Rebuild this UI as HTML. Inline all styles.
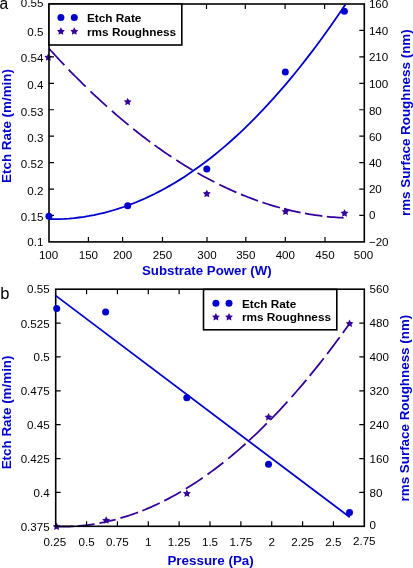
<!DOCTYPE html>
<html><head><meta charset="utf-8"><title>Etch rate and rms roughness</title>
<style>
html,body{margin:0;padding:0;background:#fff}
svg{display:block}
text{font-family:"Liberation Sans",Arial,Helvetica,sans-serif}
.t{font-size:11.6px;fill:#000}
.l{font-size:13.4px;font-weight:bold;fill:#0000cc}
.g{font-size:11.8px;font-weight:bold;fill:#000}
.p{font-size:16.5px;fill:#000}
</style></head><body>
<svg width="413" height="568" viewBox="0 0 413 568">
<rect width="413" height="568" fill="#fff"/>
<g id="chart-a">
<path d="M49.00,48.54 L51.20,50.97 L53.40,53.37 L55.60,55.76 L57.80,58.13 L60.00,60.48 L62.20,62.82 L64.40,65.14M68.60,69.52 L71.04,72.03 L73.49,74.53 L75.93,77.00 L78.37,79.46 L80.81,81.89 L83.26,84.30 L85.70,86.68M90.50,91.31 L92.86,93.56 L95.21,95.78 L97.57,97.98 L99.93,100.17 L102.29,102.33 L104.64,104.47 L107.00,106.59M111.90,110.94 L114.29,113.03 L116.67,115.09 L119.06,117.14 L121.44,119.16 L123.83,121.17 L126.21,123.15 L128.60,125.11M133.20,128.84 L135.63,130.78 L138.06,132.69 L140.49,134.59 L142.91,136.46 L145.34,138.31 L147.77,140.14 L150.20,141.95M154.50,145.11 L156.91,146.85 L159.33,148.56 L161.74,150.26 L164.16,151.94 L166.57,153.60 L168.99,155.23 L171.40,156.85M176.30,160.06 L178.61,161.54 L180.93,163.01 L183.24,164.46 L185.56,165.89 L187.87,167.30 L190.19,168.69 L192.50,170.06M197.50,172.95 L199.91,174.32 L202.33,175.67 L204.74,176.99 L207.16,178.29 L209.57,179.57 L211.99,180.84 L214.40,182.08M219.30,184.53 L221.74,185.72 L224.19,186.89 L226.63,188.03 L229.07,189.16 L231.51,190.26 L233.96,191.35 L236.40,192.41M241.00,194.35 L243.43,195.34 L245.86,196.31 L248.29,197.26 L250.71,198.19 L253.14,199.10 L255.57,199.99 L258.00,200.85M262.50,202.40 L265.00,203.23 L267.50,204.04 L270.00,204.82 L272.50,205.58 L275.00,206.32 L277.50,207.03 L280.00,207.73M284.00,208.79 L286.37,209.39 L288.74,209.97 L291.11,210.54 L293.49,211.08 L295.86,211.60 L298.23,212.10 L300.60,212.58M305.00,213.42 L307.49,213.86 L309.97,214.28 L312.46,214.68 L314.94,215.06 L317.43,215.41 L319.91,215.74 L322.40,216.05M326.80,216.55 L329.20,216.79 L331.60,217.01 L334.00,217.20 L336.40,217.38 L338.80,217.54 L341.20,217.67 L343.60,217.79" fill="none" stroke="#330099" stroke-width="1.75"/>
<polygon points="48.30,53.25 49.53,55.70 52.25,56.12 50.30,58.05 50.74,60.76 48.30,59.50 45.86,60.76 46.30,58.05 44.35,56.12 47.07,55.70" fill="#330099"/><polygon points="127.70,97.75 128.93,100.20 131.65,100.62 129.70,102.55 130.14,105.26 127.70,104.00 125.26,105.26 125.70,102.55 123.75,100.62 126.47,100.20" fill="#330099"/><polygon points="206.80,189.65 208.03,192.10 210.75,192.52 208.80,194.45 209.24,197.16 206.80,195.90 204.36,197.16 204.80,194.45 202.85,192.52 205.57,192.10" fill="#330099"/><polygon points="285.60,207.55 286.83,210.00 289.55,210.42 287.60,212.35 288.04,215.06 285.60,213.80 283.16,215.06 283.60,212.35 281.65,210.42 284.37,210.00" fill="#330099"/><polygon points="344.50,209.15 345.73,211.60 348.45,212.02 346.50,213.95 346.94,216.66 344.50,215.40 342.06,216.66 342.50,213.95 340.55,212.02 343.27,211.60" fill="#330099"/>
<rect x="49.0" y="4.0" width="315.3" height="237.9" fill="none" stroke="#000" stroke-width="1.6"/>
<path d="M88.4,241.9v-5M122.6,241.9v-5M162.5,241.9v-5M207,241.9v-5M245.8,241.9v-5M285.3,241.9v-5M325.0,241.9v-5M88.4,4.0v5M127.8,4.0v5M167.2,4.0v5M206.5,4.0v5M245.3,4.0v5M285.1,4.0v5M324.6,4.0v5M49.0,30.43h5M364.3,30.43h-5M49.0,56.87h5M364.3,56.87h-5M49.0,83.30h5M364.3,83.30h-5M49.0,109.73h5M364.3,109.73h-5M49.0,136.17h5M364.3,136.17h-5M49.0,162.60h5M364.3,162.60h-5M49.0,189.03h5M364.3,189.03h-5M49.0,215.47h5M364.3,215.47h-5" stroke="#000" stroke-width="1.2" fill="none"/>
<path d="M48.90,219.20 L53.93,219.22 L58.95,219.12 L63.98,218.90 L69.00,218.56 L74.03,218.10 L79.05,217.51 L84.08,216.81 L89.10,215.98 L94.13,215.03 L99.15,213.96 L104.18,212.76 L109.21,211.45 L114.23,210.00 L119.26,208.44 L124.28,206.75 L129.31,204.93 L134.33,202.99 L139.36,200.93 L144.38,198.74 L149.41,196.42 L154.43,193.98 L159.46,191.41 L164.48,188.71 L169.51,185.89 L174.54,182.94 L179.56,179.86 L184.59,176.65 L189.61,173.32 L194.64,169.85 L199.66,166.26 L204.69,162.53 L209.71,158.68 L214.74,154.70 L219.76,150.59 L224.79,146.34 L229.82,141.97 L234.84,137.46 L239.87,132.82 L244.89,128.05 L249.92,123.15 L254.94,118.12 L259.97,112.95 L264.99,107.65 L270.02,102.21 L275.04,96.64 L280.07,90.94 L285.09,85.10 L290.12,79.13 L295.15,73.02 L300.17,66.78 L305.20,60.40 L310.22,53.89 L315.25,47.24 L320.27,40.45 L325.30,33.52 L330.32,26.46 L335.35,19.26 L340.37,11.92 L345.40,4.44" fill="none" stroke="#0000cc" stroke-width="1.8"/>
<circle cx="48.9" cy="216.3" r="3.5" fill="#0000cc"/><circle cx="127.7" cy="205.7" r="3.5" fill="#0000cc"/><circle cx="206.8" cy="168.9" r="3.5" fill="#0000cc"/><circle cx="285.3" cy="71.9" r="3.5" fill="#0000cc"/><circle cx="344.4" cy="11.2" r="3.5" fill="#0000cc"/>
<text class="t" x="48.6" y="259.4" text-anchor="middle">100</text><text class="t" x="88.4" y="259.4" text-anchor="middle">150</text><text class="t" x="122.6" y="259.4" text-anchor="middle">200</text><text class="t" x="162.5" y="259.4" text-anchor="middle">250</text><text class="t" x="207.0" y="259.4" text-anchor="middle">300</text><text class="t" x="245.8" y="259.4" text-anchor="middle">350</text><text class="t" x="285.3" y="259.4" text-anchor="middle">400</text><text class="t" x="325.0" y="259.4" text-anchor="middle">450</text><text class="t" x="363.5" y="259.4" text-anchor="middle">500</text>
<text class="t" x="43.4" y="7.4" text-anchor="end">0.55</text><text class="t" x="43.4" y="35.7" text-anchor="end">0.5</text><text class="t" x="43.4" y="62.2" text-anchor="end">0.54</text><text class="t" x="43.4" y="89.0" text-anchor="end">0.4</text><text class="t" x="43.4" y="115.5" text-anchor="end">0.53</text><text class="t" x="43.4" y="142.0" text-anchor="end">0.3</text><text class="t" x="43.4" y="168.2" text-anchor="end">0.52</text><text class="t" x="43.4" y="194.5" text-anchor="end">0.2</text><text class="t" x="43.4" y="220.8" text-anchor="end">0.15</text><text class="t" x="43.4" y="246.2" text-anchor="end">0.1</text>
<text class="t" x="368.9" y="7.7">160</text><text class="t" x="368.9" y="35.1">140</text><text class="t" x="368.9" y="61.4">210</text><text class="t" x="368.9" y="88.2">100</text><text class="t" x="368.9" y="114.5">80</text><text class="t" x="368.9" y="140.7">60</text><text class="t" x="368.9" y="167.0">40</text><text class="t" x="368.9" y="193.3">20</text><text class="t" x="368.9" y="219.2">0</text><text class="t" x="368.9" y="245.7">−20</text>
<rect x="49" y="4" width="132.8" height="41" fill="#fff" stroke="#000" stroke-width="1.6"/>
<circle cx="60.9" cy="17.6" r="3.5" fill="#0000cc"/><circle cx="74.3" cy="17.6" r="3.5" fill="#0000cc"/><polygon points="60.90,27.35 62.13,29.80 64.85,30.22 62.90,32.15 63.34,34.86 60.90,33.60 58.46,34.86 58.90,32.15 56.95,30.22 59.67,29.80" fill="#330099"/><polygon points="74.30,27.35 75.53,29.80 78.25,30.22 76.30,32.15 76.74,34.86 74.30,33.60 71.86,34.86 72.30,32.15 70.35,30.22 73.07,29.80" fill="#330099"/><text class="g" x="87.0" y="21.7">Etch Rate</text><text class="g" x="87.0" y="35.5">rms Roughness</text>
<text class="l" x="206.8" y="274.6" text-anchor="middle" style="font-size:13.25px">Substrate Power (W)</text>
<text class="l" transform="translate(11,126) rotate(-90)" text-anchor="middle">Etch Rate (m/min)</text>
<text class="l" transform="translate(409.5,122.7) rotate(-90)" text-anchor="middle">rms Surface Roughness (nm)</text>
<text class="p" x="-0.5" y="8.7" style="font-size:15.6px">a</text>
</g>
<g id="chart-b">
<path d="M56.90,526.70 L59.33,526.73 L61.76,526.74 L64.19,526.72 L66.61,526.67 L69.04,526.60 L71.47,526.49 L73.90,526.35M77.50,526.10 L79.93,525.89 L82.36,525.66 L84.79,525.39 L87.21,525.10 L89.64,524.78 L92.07,524.42 L94.50,524.04M99.50,523.17 L101.80,522.73 L104.10,522.26 L106.40,521.76 L108.70,521.24 L111.00,520.70 L113.30,520.12 L115.60,519.53M120.40,518.20 L122.91,517.45 L125.43,516.68 L127.94,515.88 L130.46,515.04 L132.97,514.17 L135.49,513.28 L138.00,512.35M142.30,510.69 L144.79,509.69 L147.27,508.66 L149.76,507.60 L152.24,506.51 L154.73,505.39 L157.21,504.24 L159.70,503.06M164.20,500.84 L166.60,499.62 L169.00,498.37 L171.40,497.09 L173.80,495.78 L176.20,494.45 L178.60,493.08 L181.00,491.69M185.80,488.83 L188.21,487.34 L190.63,485.83 L193.04,484.29 L195.46,482.72 L197.87,481.12 L200.29,479.49 L202.70,477.84M207.50,474.46 L209.77,472.82 L212.04,471.16 L214.31,469.47 L216.59,467.76 L218.86,466.02 L221.13,464.26 L223.40,462.47M228.20,458.61 L230.67,456.58 L233.14,454.51 L235.61,452.42 L238.09,450.30 L240.56,448.15 L243.03,445.97 L245.50,443.76M249.30,440.30 L251.80,437.98 L254.30,435.64 L256.80,433.26 L259.30,430.86 L261.80,428.42 L264.30,425.95 L266.80,423.46M270.60,419.60 L273.00,417.13 L275.40,414.63 L277.80,412.10 L280.20,409.55 L282.60,406.96 L285.00,404.35 L287.40,401.71M291.60,397.03 L293.71,394.63 L295.83,392.22 L297.94,389.78 L300.06,387.32 L302.17,384.84 L304.29,382.34 L306.40,379.82M309.70,375.84 L311.71,373.38 L313.73,370.90 L315.74,368.41 L317.76,365.89 L319.77,363.35 L321.79,360.80 L323.80,358.22M327.10,353.96 L328.90,351.61 L330.70,349.24 L332.50,346.87 L334.30,344.47 L336.10,342.06 L337.90,339.63 L339.70,337.19M342.80,332.94 L343.76,331.62 L344.71,330.30 L345.67,328.97 L346.63,327.64 L347.59,326.30 L348.54,324.96 L349.50,323.61" fill="none" stroke="#330099" stroke-width="1.75"/>
<polygon points="56.60,522.55 57.83,525.00 60.55,525.42 58.60,527.35 59.04,530.06 56.60,528.80 54.16,530.06 54.60,527.35 52.65,525.42 55.37,525.00" fill="#330099"/><polygon points="106.20,516.35 107.43,518.80 110.15,519.22 108.20,521.15 108.64,523.86 106.20,522.60 103.76,523.86 104.20,521.15 102.25,519.22 104.97,518.80" fill="#330099"/><polygon points="186.90,489.45 188.13,491.90 190.85,492.32 188.90,494.25 189.34,496.96 186.90,495.70 184.46,496.96 184.90,494.25 182.95,492.32 185.67,491.90" fill="#330099"/><polygon points="268.50,413.05 269.73,415.50 272.45,415.92 270.50,417.85 270.94,420.56 268.50,419.30 266.06,420.56 266.50,417.85 264.55,415.92 267.27,415.50" fill="#330099"/><polygon points="349.60,319.55 350.83,322.00 353.55,322.42 351.60,324.35 352.04,327.06 349.60,325.80 347.16,327.06 347.60,324.35 345.65,322.42 348.37,322.00" fill="#330099"/>
<rect x="55.7" y="289.2" width="308.6" height="237.09999999999997" fill="none" stroke="#000" stroke-width="1.6"/>
<path d="M86.56,526.3v-5M86.56,289.2v5M117.42,526.3v-5M117.42,289.2v5M148.28,526.3v-5M148.28,289.2v5M179.14,526.3v-5M179.14,289.2v5M210.00,526.3v-5M210.00,289.2v5M240.86,526.3v-5M240.86,289.2v5M271.72,526.3v-5M271.72,289.2v5M302.58,526.3v-5M302.58,289.2v5M333.44,526.3v-5M333.44,289.2v5M55.7,323.07h5M364.3,323.07h-5M55.7,356.94h5M364.3,356.94h-5M55.7,390.81h5M364.3,390.81h-5M55.7,424.69h5M364.3,424.69h-5M55.7,458.56h5M364.3,458.56h-5M55.7,492.43h5M364.3,492.43h-5" stroke="#000" stroke-width="1.2" fill="none"/>
<path d="M55.7,295.6 L349.8,517.2" fill="none" stroke="#0000cc" stroke-width="1.8"/>
<circle cx="56.7" cy="308.6" r="3.5" fill="#0000cc"/><circle cx="105.6" cy="312.0" r="3.5" fill="#0000cc"/><circle cx="186.8" cy="397.8" r="3.5" fill="#0000cc"/><circle cx="268.5" cy="464.3" r="3.5" fill="#0000cc"/><circle cx="349.5" cy="512.4" r="3.5" fill="#0000cc"/>
<text class="t" x="54.9" y="546.2" text-anchor="middle">0.25</text><text class="t" x="86.6" y="546.2" text-anchor="middle">0.5</text><text class="t" x="117.4" y="546.2" text-anchor="middle">0.75</text><text class="t" x="148.3" y="546.2" text-anchor="middle">1</text><text class="t" x="179.1" y="546.2" text-anchor="middle">1.25</text><text class="t" x="210.0" y="546.2" text-anchor="middle">1.5</text><text class="t" x="240.9" y="546.2" text-anchor="middle">1.75</text><text class="t" x="271.7" y="546.2" text-anchor="middle">2</text><text class="t" x="302.6" y="546.2" text-anchor="middle">2.25</text><text class="t" x="333.4" y="546.2" text-anchor="middle">2.5</text><text class="t" x="364.3" y="544.8" text-anchor="middle">2.75</text>
<text class="t" x="49.7" y="293.1" text-anchor="end">0.55</text><text class="t" x="49.7" y="327.5" text-anchor="end">0.525</text><text class="t" x="49.7" y="361.4" text-anchor="end">0.5</text><text class="t" x="49.7" y="395.3" text-anchor="end">0.475</text><text class="t" x="49.7" y="429.1" text-anchor="end">0.45</text><text class="t" x="49.7" y="463.0" text-anchor="end">0.425</text><text class="t" x="49.7" y="496.9" text-anchor="end">0.4</text><text class="t" x="49.7" y="530.8" text-anchor="end">0.375</text>
<text class="t" x="369.5" y="293.0">560</text><text class="t" x="369.5" y="327.4">480</text><text class="t" x="369.5" y="361.3">400</text><text class="t" x="369.5" y="395.2">320</text><text class="t" x="369.5" y="429.0">240</text><text class="t" x="369.5" y="462.9">160</text><text class="t" x="369.5" y="496.8">80</text><text class="t" x="369.5" y="528.8">0</text>
<rect x="203.5" y="289.4" width="133.3" height="40.4" fill="#fff" stroke="#000" stroke-width="1.6"/>
<circle cx="215.9" cy="303.2" r="3.5" fill="#0000cc"/><circle cx="229.0" cy="303.2" r="3.5" fill="#0000cc"/><polygon points="215.90,312.95 217.13,315.40 219.85,315.82 217.90,317.75 218.34,320.46 215.90,319.20 213.46,320.46 213.90,317.75 211.95,315.82 214.67,315.40" fill="#330099"/><polygon points="229.00,312.95 230.23,315.40 232.95,315.82 231.00,317.75 231.44,320.46 229.00,319.20 226.56,320.46 227.00,317.75 225.05,315.82 227.77,315.40" fill="#330099"/><text class="g" x="241.9" y="307.8">Etch Rate</text><text class="g" x="241.9" y="321.2">rms Roughness</text>
<text class="l" x="210.6" y="564.9" text-anchor="middle">Pressure (Pa)</text>
<text class="l" transform="translate(11,412.4) rotate(-90)" text-anchor="middle">Etch Rate (m/min)</text>
<text class="l" transform="translate(409.3,408.1) rotate(-90)" text-anchor="middle">rms Surface Roughness (nm)</text>
<text class="p" x="0.2" y="299">b</text>
</g>
</svg>
</body></html>
